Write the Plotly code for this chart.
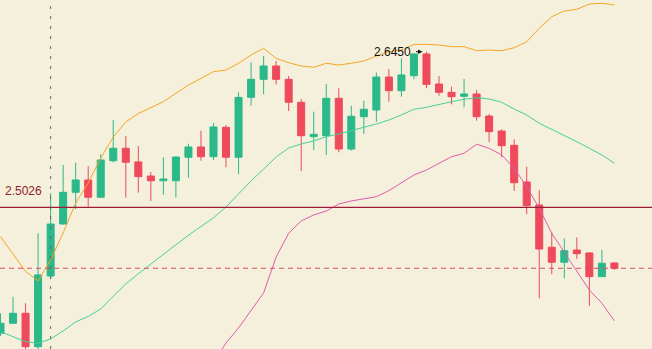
import plotly.graph_objects as go

idx = list(range(50))

opens = [2.3873, 2.3965, 2.4056, 2.3750, 2.4397, 2.4873, 2.5163, 2.5276, 2.5118, 2.5452,
         2.5566, 2.5441, 2.5312, 2.5269, 2.5269, 2.5484, 2.5578, 2.5489, 2.5758, 2.5484,
         2.6032, 2.6197, 2.6319, 2.6197, 2.5987, 2.5672, 2.5681, 2.6023, 2.5559, 2.5855,
         2.5916, 2.6218, 2.6093, 2.6230, 2.6429, 2.6154, 2.6078, 2.6042, 2.6063, 2.5861,
         2.5724, 2.5593, 2.5258, 2.5047, 2.4660, 2.4523, 2.4635, 2.4608, 2.4391, 2.4516]
highs = [2.4056, 2.4208, 2.4148, 2.4788, 2.5154, 2.5413, 2.5434, 2.5404, 2.5511, 2.5825,
         2.5678, 2.5587, 2.5349, 2.5484, 2.5491, 2.5608, 2.5727, 2.5797, 2.5779, 2.6078,
         2.6353, 2.6410, 2.6365, 2.6227, 2.6017, 2.5901, 2.6154, 2.6115, 2.5956, 2.6001,
         2.6258, 2.6291, 2.6389, 2.6435, 2.6450, 2.6227, 2.6129, 2.6200, 2.6099, 2.5880,
         2.5740, 2.5648, 2.5398, 2.5184, 2.4797, 2.4739, 2.4751, 2.4613, 2.4635, 2.4523]
lows = [2.3848, 2.3958, 2.3720, 2.3712, 2.4367, 2.4868, 2.5008, 2.5031, 2.5116, 2.5438,
        2.5114, 2.5160, 2.5084, 2.5139, 2.5114, 2.5297, 2.5452, 2.5459, 2.5392, 2.5328,
        2.5956, 2.6060, 2.6151, 2.5907, 2.5358, 2.5550, 2.5505, 2.5529, 2.5544, 2.5697,
        2.5809, 2.5992, 2.6038, 2.6197, 2.6115, 2.6047, 2.5968, 2.5941, 2.5818, 2.5621,
        2.5484, 2.5175, 2.4962, 2.4193, 2.4413, 2.4376, 2.4553, 2.4123, 2.4388, 2.4452]
closes = [2.3965, 2.4056, 2.3750, 2.4407, 2.4873, 2.5163, 2.5276, 2.5118, 2.5459, 2.5566,
          2.5438, 2.5306, 2.5269, 2.5285, 2.5486, 2.5578, 2.5489, 2.5761, 2.5484, 2.6032,
          2.6197, 2.6319, 2.6197, 2.5987, 2.5681, 2.5694, 2.6023, 2.5559, 2.5859, 2.5923,
          2.6218, 2.6093, 2.6237, 2.6429, 2.6151, 2.6078, 2.6038, 2.6063, 2.5855, 2.5718,
          2.5590, 2.5251, 2.5041, 2.4644, 2.4523, 2.4629, 2.4601, 2.4391, 2.4514, 2.4468]

upper_band = [2.4757, 2.4599, 2.4439, 2.4352, 2.4544, 2.4791, 2.5065, 2.5248, 2.5477, 2.5669,
              2.5807, 2.5884, 2.5939, 2.5992, 2.6069, 2.6145, 2.6205, 2.6267, 2.6282, 2.6344,
              2.6420, 2.6481, 2.6389, 2.6349, 2.6319, 2.6307, 2.6344, 2.6328, 2.6344, 2.6365,
              2.6410, 2.6450, 2.6465, 2.6517, 2.6517, 2.6511, 2.6496, 2.6496, 2.6459, 2.6465,
              2.6459, 2.6486, 2.6541, 2.6664, 2.6770, 2.6822, 2.6838, 2.6886, 2.6893, 2.6877]
mid_band = [2.3888, 2.3842, 2.3796, 2.3782, 2.3821, 2.3894, 2.3977, 2.4027, 2.4095, 2.4212,
            2.4324, 2.4418, 2.4509, 2.4597, 2.4683, 2.4770, 2.4851, 2.4930, 2.5029, 2.5148,
            2.5267, 2.5376, 2.5486, 2.5569, 2.5605, 2.5633, 2.5672, 2.5697, 2.5724, 2.5758,
            2.5788, 2.5825, 2.5871, 2.5923, 2.5941, 2.5969, 2.5992, 2.6014, 2.6029, 2.6017,
            2.5987, 2.5925, 2.5871, 2.5795, 2.5740, 2.5688, 2.5626, 2.5566, 2.5505, 2.5429]
lower_band = [None] * 17 + [
    2.3611, 2.3784, 2.3922, 2.4086, 2.4242, 2.4571, 2.4788, 2.4901, 2.4956, 2.4992,
    2.5056, 2.5084, 2.5102, 2.5123, 2.5178, 2.5246, 2.5322, 2.5367, 2.5429, 2.5489,
    2.5520, 2.5603, 2.5566, 2.5505, 2.5383, 2.5214, 2.5017, 2.4788, 2.4614, 2.4437,
    2.4269, 2.4148, 2.3986]

level_line = 2.5026
level_label = "2.5026"
marker_index = 4
y_min, y_max = 2.3729, 2.6923

GREEN = "#2bb88a"
RED = "#ee4a5c"
BG = "#f5f0dc"

fig = go.Figure()

fig.add_trace(go.Scatter(x=idx, y=upper_band, mode="lines",
                         line=dict(color="#f5a524", width=1), hoverinfo="skip"))
fig.add_trace(go.Scatter(x=idx, y=mid_band, mode="lines",
                         line=dict(color="#48cf9b", width=1), hoverinfo="skip"))
fig.add_trace(go.Scatter(x=idx, y=lower_band, mode="lines",
                         line=dict(color="#e05ab0", width=1), hoverinfo="skip"))

fig.add_trace(go.Candlestick(
    x=idx, open=opens, high=highs, low=lows, close=closes,
    increasing=dict(line=dict(color=GREEN, width=1), fillcolor=GREEN),
    decreasing=dict(line=dict(color=RED, width=1), fillcolor=RED),
    whiskerwidth=0, hoverinfo="skip"))

# horizontal level line
fig.add_shape(type="line", xref="paper", x0=0, x1=1, yref="y",
              y0=level_line, y1=level_line, line=dict(color="#9e1c38", width=1.3))
# last close dashed line
fig.add_shape(type="line", xref="paper", x0=0, x1=1, yref="y",
              y0=closes[-1], y1=closes[-1], line=dict(color="#dd4a5c", width=1, dash="5px,4px"))
# vertical dashed crosshair
fig.add_shape(type="line", xref="x", x0=marker_index, x1=marker_index, yref="paper",
              y0=0, y1=1, line=dict(color="#666666", width=1, dash="3px,7px"))

fig.add_annotation(xref="paper", x=0.004, yref="y", y=level_line, yshift=16,
                   text=level_label, showarrow=False, xanchor="left", yanchor="middle",
                   font=dict(family="Liberation Sans, Arial", size=12, color="#8e1b2e"))

imax = max(range(len(highs)), key=lambda i: highs[i])
fig.add_annotation(x=imax, y=highs[imax], xref="x", yref="y", xshift=-13,
                   text=f"{highs[imax]:.4f}", showarrow=False, xanchor="right", yanchor="middle",
                   font=dict(family="Liberation Sans, Arial", size=12, color="#111111"))
fig.add_annotation(x=imax, y=highs[imax], xref="x", yref="y", xshift=-4,
                   text="", showarrow=True, ax=-8, ay=0, arrowhead=2, arrowsize=0.9,
                   arrowwidth=1, arrowcolor="#111111", standoff=0, startstandoff=0)

fig.update_layout(
    width=652, height=349, margin=dict(l=0, r=0, t=0, b=0),
    paper_bgcolor=BG, plot_bgcolor=BG, showlegend=False, boxgap=0.2,
    xaxis=dict(range=[-0.04, 52.0], visible=False, rangeslider=dict(visible=False),
               showgrid=False, zeroline=False),
    yaxis=dict(range=[y_min, y_max], visible=False, showgrid=False, zeroline=False),
)

fig.write_html("out.html")
